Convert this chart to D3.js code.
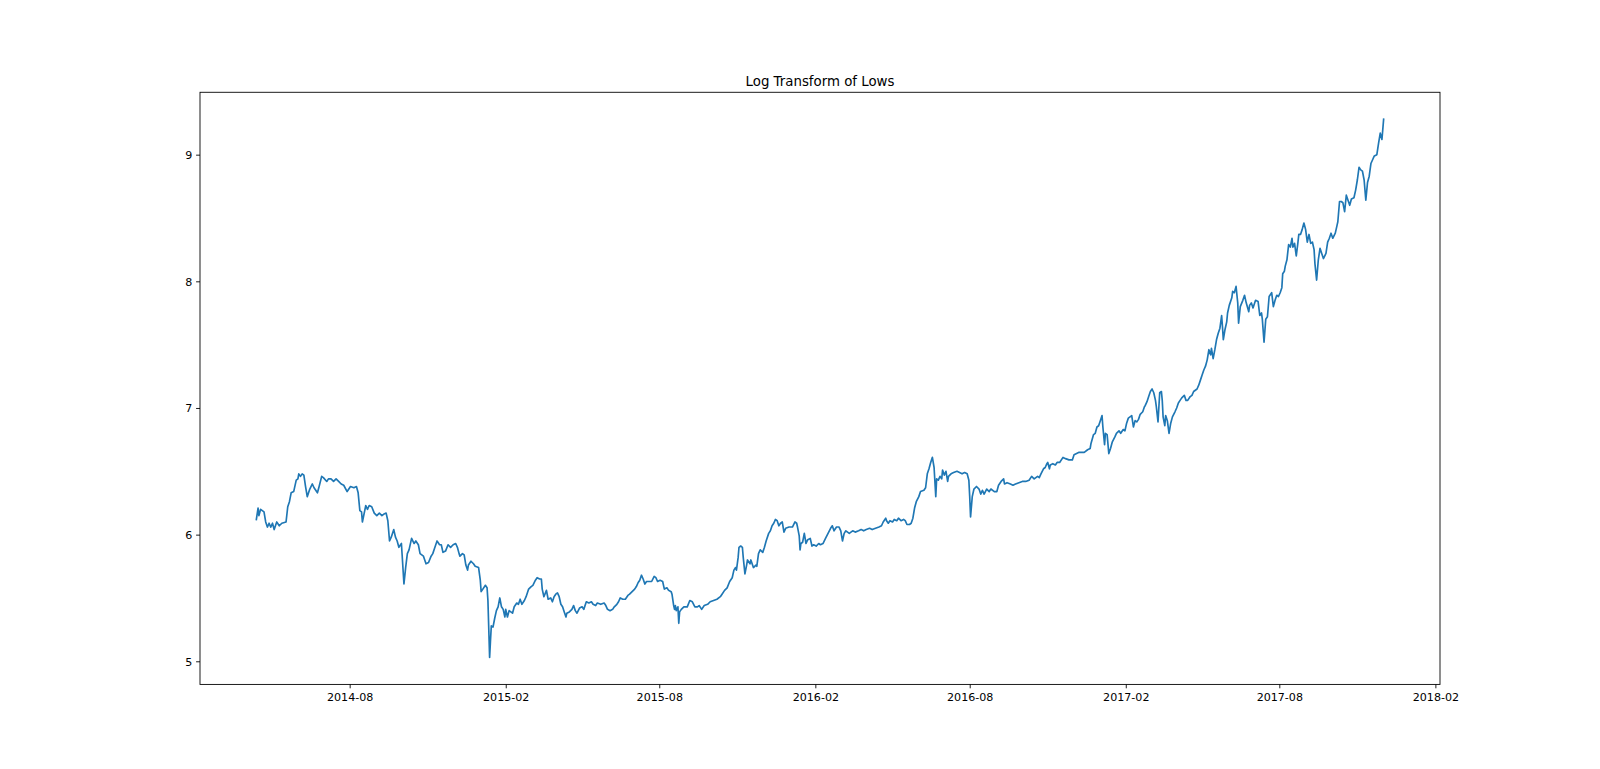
<!DOCTYPE html>
<html>
<head>
<meta charset="utf-8">
<script src="https://cdn.jsdelivr.net/npm/d3@7"></script>
<style>
html,body{margin:0;padding:0;background:#ffffff;}
svg{display:block;}
</style>
</head>
<body>
<svg id="chart" width="1600" height="769"></svg>
<script>
// ---------------- data ----------------
const chartTitle = "Log Transform of Lows";
const startDate = "2014-04-13";
// days elapsed since startDate for each observation
const dayOffsets = [
0,2,3,5,9,11,13,15,17,19,21,24,27,30,35,37,39,41,44,47,49,50,52,54,56,58,60,63,66,68,72,74,77,79,83,85,88,91,94,97,100,103,107,109,111,115,118,120,122,124,125,129,131,133,136,139,142,145,148,150,153,155,157,159,162,164,166,168,171,174,176,178,180,183,186,188,191,193,197,200,203,206,208,210,213,216,218,220,223,226,229,
232,235,237,239,240,243,245,247,249,250,253,256,258,262,264,265,267,270,272,273,275,276,277,279,281,283,285,287,289,291,293,294,296,298,302,304,307,309,311,313,316,318,321,324,326,329,331,334,336,337,339,342,344,347,349,351,353,355,357,359,361,363,365,366,369,372,374,376,378,381,384,386,389,392,395,397,400,402,406,410,412,414,417,420,422,425,427,429,432,435,438,440,443,446,448,450,452,454,456,458,460,463,
466,469,471,473,476,479,481,484,486,489,490,492,493,494,495,497,498,499,501,504,508,511,514,517,520,522,525,528,532,535,539,543,547,549,552,555,558,561,563,565,566,568,569,571,573,574,576,578,579,582,583,586,589,590,592,594,597,599,601,604,606,608,610,612,614,616,618,620,622,624,628,632,635,637,638,640,641,642,644,646,648,650,653,655,657,660,663,665,668,671,674,677,679,681,684,687,689,691,693,695,
699,703,706,710,713,716,719,723,726,730,734,737,739,742,743,745,747,750,752,755,757,760,763,765,767,770,772,774,776,778,781,783,787,789,791,793,795,797,799,801,802,804,806,808,809,811,813,815,816,819,822,826,829,832,835,838,840,841,842,844,846,849,852,854,856,858,861,864,866,870,873,875,878,881,882,885,889,892,895,899,903,907,911,914,917,921,923,925,928,930,932,933,935,936,939,942,944,947,
951,954,958,962,964,967,970,973,976,980,983,984,987,989,991,993,995,997,998,1000,1001,1003,1005,1007,1009,1012,1014,1017,1019,1022,1024,1026,1028,1030,1032,1034,1036,1038,1040,1042,1045,1047,1048,1050,1052,1054,1056,1058,1060,1061,1063,1065,1067,1068,1069,1071,1072,1074,1076,1078,1080,1083,1085,1087,1089,1091,1094,1096,1098,1101,1103,1105,1109,1111,1113,1115,1117,1119,1121,1123,1125,1126,1128,1130,1132,1134,1136,1138,1139,1140,1142,1144,1145,1147,1150,1151,1153,1155,1157,1158,1160,1163,1165,1167,1170,1171,
1173,1175,1178,1181,1183,1185,1186,1188,1190,1192,1194,1197,1199,1201,1203,1205,1207,1209,1210,1212,1213,1215,1217,1219,1221,1222,1224,1226,1228,1229,1231,1233,1235,1237,1239,1241,1243,1245,1247,1248,1250,1252,1254,1256,1258,1261,1263,1265,1267,1269,1272,1274,1275,1277,1279,1281,1283,1285,1287,1289,1291,1294,1296,1298,1300,1302,1304,1306,1308,1310,1312,1314,1316,1318,1321,1323,1325,1327,1328,1329
];
// log of daily lows
const logLows = [
6.12,6.21,6.15,6.20,6.18,6.10,6.06,6.09,6.06,6.09,6.04,6.10,6.07,6.09,6.10,6.22,6.26,6.33,6.34,6.43,6.44,6.48,6.46,6.48,6.47,6.38,6.30,6.36,6.40,6.37,6.33,6.38,6.46,6.45,6.42,6.44,6.44,6.42,6.44,6.42,6.40,6.39,6.34,6.36,6.38,6.37,6.38,6.33,6.19,6.18,6.10,6.23,6.20,6.23,6.22,6.17,6.15,6.17,6.15,6.16,6.17,6.11,5.95,5.98,6.04,5.98,5.95,5.90,5.93,5.61,5.74,5.85,5.88,5.97,5.93,5.95,5.92,5.85,5.83,5.77,5.78,5.83,5.85,5.89,5.95,5.92,5.92,5.86,5.87,5.92,5.90,
5.92,5.93,5.90,5.85,5.83,5.85,5.84,5.76,5.72,5.76,5.79,5.77,5.75,5.74,5.64,5.55,5.57,5.60,5.58,5.48,5.03,5.16,5.28,5.27,5.34,5.40,5.43,5.50,5.43,5.41,5.35,5.41,5.35,5.40,5.38,5.43,5.46,5.45,5.49,5.45,5.48,5.51,5.57,5.59,5.60,5.64,5.66,5.65,5.65,5.57,5.51,5.56,5.49,5.50,5.47,5.51,5.53,5.54,5.51,5.45,5.43,5.39,5.35,5.38,5.39,5.41,5.44,5.40,5.38,5.42,5.43,5.41,5.47,5.46,5.47,5.45,5.44,5.46,5.45,5.46,5.44,5.41,5.40,5.41,5.43,5.45,5.47,5.50,5.49,5.49,5.52,5.53,5.55,5.57,5.59,5.62,5.64,5.68,5.65,5.61,5.63,5.63,
5.63,5.67,5.66,5.63,5.64,5.63,5.57,5.58,5.56,5.55,5.53,5.44,5.41,5.44,5.40,5.43,5.30,5.39,5.41,5.43,5.43,5.48,5.47,5.43,5.43,5.44,5.41,5.44,5.45,5.47,5.48,5.49,5.51,5.53,5.56,5.58,5.63,5.66,5.72,5.74,5.72,5.82,5.90,5.91,5.90,5.82,5.69,5.76,5.80,5.77,5.80,5.74,5.76,5.75,5.85,5.88,5.86,5.90,5.95,6.01,6.03,6.07,6.09,6.12,6.11,6.07,6.09,6.10,6.02,6.05,6.06,6.06,6.10,6.09,6.06,5.99,5.88,5.93,5.94,6.01,5.93,5.96,5.97,5.91,5.92,5.91,5.93,5.92,5.93,5.97,6.01,6.05,6.07,6.03,6.06,6.06,6.03,5.95,6.01,6.03,
6.01,6.03,6.02,6.03,6.04,6.03,6.04,6.05,6.04,6.05,6.06,6.07,6.10,6.13,6.11,6.09,6.11,6.10,6.12,6.11,6.13,6.11,6.12,6.11,6.08,6.08,6.09,6.13,6.21,6.26,6.30,6.34,6.35,6.37,6.48,6.52,6.57,6.61,6.53,6.30,6.44,6.43,6.46,6.44,6.51,6.47,6.50,6.42,6.46,6.48,6.49,6.50,6.49,6.48,6.49,6.48,6.43,6.30,6.14,6.30,6.36,6.38,6.36,6.32,6.35,6.32,6.36,6.34,6.36,6.34,6.34,6.39,6.42,6.44,6.40,6.41,6.40,6.39,6.40,6.41,6.42,6.42,6.43,6.46,6.44,6.46,6.45,6.48,6.52,6.53,6.56,6.57,6.52,6.55,6.56,6.55,6.57,6.57,
6.61,6.60,6.59,6.59,6.63,6.64,6.65,6.65,6.65,6.67,6.68,6.72,6.79,6.80,6.85,6.86,6.90,6.94,6.85,6.71,6.80,6.79,6.64,6.68,6.73,6.77,6.80,6.82,6.80,6.83,6.82,6.88,6.92,6.93,6.94,6.85,6.90,6.89,6.91,6.95,6.97,7.01,7.02,7.05,7.09,7.13,7.15,7.12,7.06,7.01,6.89,7.12,7.13,7.06,6.93,6.86,6.94,6.90,6.80,6.88,6.93,6.97,7.00,7.04,7.06,7.08,7.10,7.06,7.06,7.09,7.10,7.13,7.15,7.18,7.22,7.26,7.30,7.33,7.38,7.46,7.42,7.47,7.39,7.46,7.54,7.59,7.63,7.73,7.64,7.54,7.62,7.68,7.75,7.81,7.87,7.92,7.91,7.96,7.83,7.67,7.80,7.85,7.89,7.83,7.76,7.81,
7.83,7.79,7.85,7.84,7.73,7.75,7.70,7.52,7.70,7.72,7.88,7.91,7.80,7.85,7.89,7.88,7.91,7.95,8.06,8.08,8.12,8.17,8.29,8.27,8.34,8.27,8.30,8.20,8.31,8.37,8.37,8.41,8.46,8.41,8.31,8.37,8.30,8.31,8.25,8.14,8.01,8.17,8.26,8.22,8.18,8.22,8.31,8.34,8.38,8.34,8.38,8.44,8.47,8.63,8.63,8.62,8.55,8.68,8.64,8.60,8.65,8.66,8.72,8.80,8.90,8.88,8.87,8.80,8.64,8.78,8.83,8.93,8.96,8.99,9.00,9.09,9.17,9.12,9.20,9.28
];
const xTickLabels = ["2014-08","2015-02","2015-08","2016-02","2016-08","2017-02","2017-08","2018-02"];
const yTickValues = [5, 6, 7, 8, 9];

// ---------------- layout ----------------
const W = 1600, H = 769;
const plot = { left: W * 0.125, right: W * 0.9, top: H * 0.12, bottom: H * 0.89 };
const fontFamily = "'DejaVu Sans', 'Liberation Sans', sans-serif";
const tickFont = 11.1, titleFont = 13.33;
const tickLen = 3.9, tickPad = 3.9, spineW = 0.89;
const lineColor = "#1f77b4";

const parseDay = d3.utcParse("%Y-%m-%d");
const parseMonth = d3.utcParse("%Y-%m");
const t0 = parseDay(startDate);
const data = dayOffsets.map((o, i) => ({ date: d3.utcDay.offset(t0, o), v: logLows[i] }));

const xExt = d3.extent(data, d => +d.date);
const xPad = (xExt[1] - xExt[0]) * 0.05;
const yExt = d3.extent(data, d => d.v);
const yPad = (yExt[1] - yExt[0]) * 0.05;

const x = d3.scaleUtc()
  .domain([new Date(xExt[0] - xPad), new Date(xExt[1] + xPad)])
  .range([plot.left, plot.right]);
const y = d3.scaleLinear()
  .domain([yExt[0] - yPad, yExt[1] + yPad])
  .range([plot.bottom, plot.top]);

const svg = d3.select("#chart");
svg.append("rect").attr("width", W).attr("height", H).attr("fill", "#ffffff");

// line
const line = d3.line().x(d => x(d.date)).y(d => y(d.v));
svg.append("path")
  .datum(data)
  .attr("d", line)
  .attr("fill", "none")
  .attr("stroke", lineColor)
  .attr("stroke-width", 1.67)
  .attr("stroke-linejoin", "round")
  .attr("stroke-linecap", "square");

// axes
const xAxis = d3.axisBottom(x)
  .tickValues(xTickLabels.map(parseMonth))
  .tickFormat(d3.utcFormat("%Y-%m"))
  .tickSize(tickLen).tickPadding(tickPad).tickSizeOuter(0);
const gx = svg.append("g").attr("transform", `translate(0,${plot.bottom})`).call(xAxis);
gx.select(".domain").remove();
gx.selectAll(".tick line").attr("stroke", "#000").attr("stroke-width", spineW);
gx.selectAll(".tick text")
  .attr("fill", "#000").attr("dy", "0.79em")
  .style("font-family", fontFamily).style("font-size", tickFont + "px");

const yAxis = d3.axisLeft(y)
  .tickValues(yTickValues)
  .tickFormat(d3.format("d"))
  .tickSize(tickLen).tickPadding(tickPad).tickSizeOuter(0);
const gy = svg.append("g").attr("transform", `translate(${plot.left},0)`).call(yAxis);
gy.select(".domain").remove();
gy.selectAll(".tick line").attr("stroke", "#000").attr("stroke-width", spineW);
gy.selectAll(".tick text")
  .attr("fill", "#000").attr("dy", "0.36em")
  .style("font-family", fontFamily).style("font-size", tickFont + "px");

// spines
svg.append("rect")
  .attr("x", plot.left).attr("y", plot.top)
  .attr("width", plot.right - plot.left).attr("height", plot.bottom - plot.top)
  .attr("fill", "none").attr("stroke", "#000").attr("stroke-width", spineW);

// title
svg.append("text")
  .attr("x", (plot.left + plot.right) / 2)
  .attr("y", plot.top - 6.67)
  .attr("text-anchor", "middle")
  .attr("fill", "#000")
  .style("font-family", fontFamily)
  .style("font-size", titleFont + "px")
  .text(chartTitle);
</script>
</body>
</html>
